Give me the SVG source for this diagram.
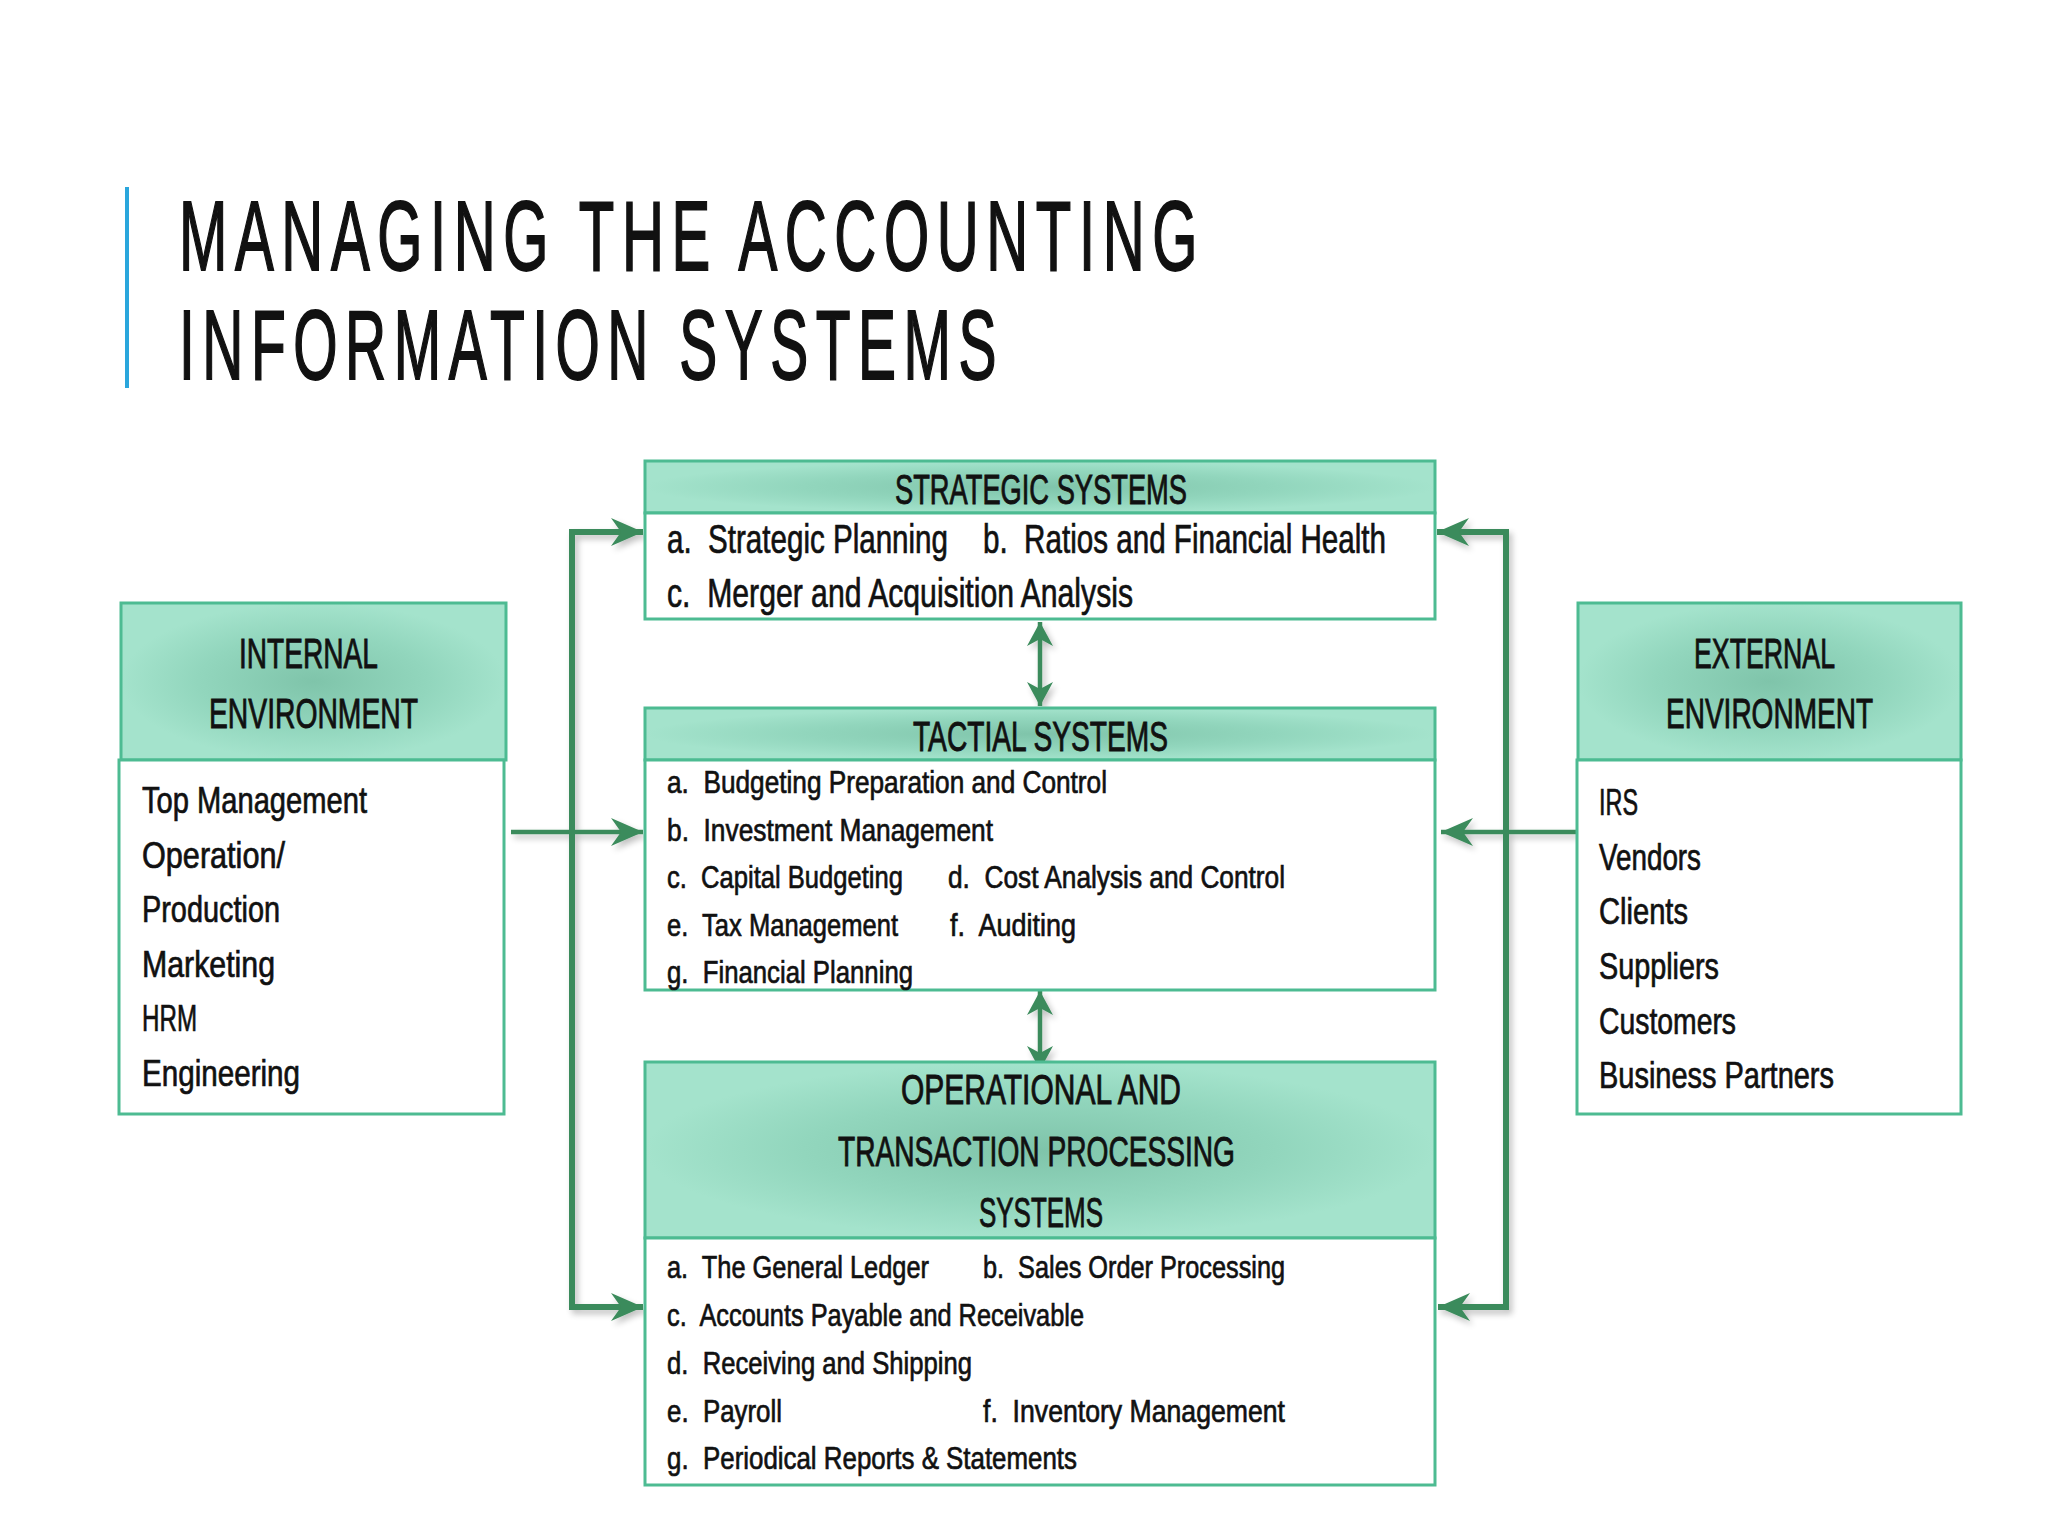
<svg xmlns="http://www.w3.org/2000/svg" width="2048" height="1536" viewBox="0 0 2048 1536">
<defs>
<radialGradient id="hdr" cx="0.5" cy="0.5" r="0.5">
<stop offset="0" stop-color="#7fc4aa"/>
<stop offset="0.6" stop-color="#92d6bd"/>
<stop offset="1" stop-color="#a4e3cc"/>
</radialGradient>
<filter id="sh" x="-10%" y="-10%" width="130%" height="130%">
<feGaussianBlur in="SourceAlpha" stdDeviation="3"/>
<feOffset dx="3" dy="4" result="b"/>
<feComponentTransfer><feFuncA type="linear" slope="0.25"/></feComponentTransfer>
<feMerge><feMergeNode/><feMergeNode in="SourceGraphic"/></feMerge>
</filter>
<marker id="ah" markerUnits="userSpaceOnUse" viewBox="-32 -16 34 32" refX="0" refY="0" markerWidth="34" markerHeight="32" orient="auto-start-reverse">
<path d="M0,0 L-32,-14 L-22,0 L-32,14 Z" fill="#3b8b5b"/>
</marker>
<marker id="ahs" markerUnits="userSpaceOnUse" viewBox="-26 -14 28 28" refX="0" refY="0" markerWidth="28" markerHeight="28" orient="auto-start-reverse">
<path d="M0,0 L-24,-13 L-17,0 L-24,13 Z" fill="#3b8b5b"/>
</marker>
</defs>
<style>
.t{font-family:"Liberation Sans",Arial,sans-serif;fill:#111;stroke:#111;stroke-width:0.7px;}
.ttl{font-size:99px;letter-spacing:13px;stroke-width:1.8px;}
.h{font-size:42px;stroke-width:0.9px;}
.b{font-size:40px;}
.s{font-size:32px;}
.e{font-size:36px;}
.hd{fill:url(#hdr);stroke:#4dbb92;stroke-width:3;}
.bd{fill:#ffffff;stroke:#4dbb92;stroke-width:3;}
.c{fill:none;stroke:#3b8b5b;stroke-width:6;stroke-linejoin:miter;}
.cm{fill:none;stroke:#3b8b5b;stroke-width:4.5;}
</style>
<rect width="2048" height="1536" fill="#ffffff"/>

<g id="title">
<rect x="125" y="187" width="4" height="201" fill="#2aa6dc"/>
<text class="t ttl" x="179" y="270" textLength="1026" lengthAdjust="spacingAndGlyphs">MANAGING THE ACCOUNTING</text>
<text class="t ttl" x="179" y="379" textLength="825" lengthAdjust="spacingAndGlyphs">INFORMATION SYSTEMS</text>
</g>

<g id="connectors" filter="url(#sh)">
<path class="c" d="M643,532 H572 V1307 H643" marker-start="url(#ah)" marker-end="url(#ah)"/>
<path class="cm" d="M511,832 H643" marker-end="url(#ah)"/>
<path class="c" d="M1437,532 H1506 V1307 H1438" marker-start="url(#ah)" marker-end="url(#ah)"/>
<path class="cm" d="M1576,832 H1441" marker-end="url(#ah)"/>
<path class="cm" d="M1040,622 V706" marker-start="url(#ahs)" marker-end="url(#ahs)"/>
<path class="cm" d="M1040,991 V1070" marker-start="url(#ahs)" marker-end="url(#ahs)"/>
</g>

<g id="strategic">
<rect class="hd" x="645" y="461" width="790" height="52"/>
<rect class="bd" x="645" y="513" width="790" height="106"/>
<text class="t h" x="895" y="504" textLength="292" lengthAdjust="spacingAndGlyphs">STRATEGIC SYSTEMS</text>
<text class="t b" xml:space="preserve" x="667" y="553" textLength="281" lengthAdjust="spacingAndGlyphs">a.  Strategic Planning</text>
<text class="t b" xml:space="preserve" x="983" y="553" textLength="403" lengthAdjust="spacingAndGlyphs">b.  Ratios and Financial Health</text>
<text class="t b" xml:space="preserve" x="667" y="607" textLength="466" lengthAdjust="spacingAndGlyphs">c.  Merger and Acquisition Analysis</text>
</g>

<g id="tactical">
<rect class="hd" x="645" y="708" width="790" height="52"/>
<rect class="bd" x="645" y="760" width="790" height="230"/>
<text class="t h" x="913" y="751" textLength="255" lengthAdjust="spacingAndGlyphs">TACTIAL SYSTEMS</text>
<text class="t s" xml:space="preserve" x="667" y="793" textLength="440" lengthAdjust="spacingAndGlyphs">a.  Budgeting Preparation and Control</text>
<text class="t s" xml:space="preserve" x="667" y="841" textLength="326" lengthAdjust="spacingAndGlyphs">b.  Investment Management</text>
<text class="t s" xml:space="preserve" x="667" y="888" textLength="236" lengthAdjust="spacingAndGlyphs">c.  Capital Budgeting</text>
<text class="t s" xml:space="preserve" x="948" y="888" textLength="337" lengthAdjust="spacingAndGlyphs">d.  Cost Analysis and Control</text>
<text class="t s" xml:space="preserve" x="667" y="936" textLength="231" lengthAdjust="spacingAndGlyphs">e.  Tax Management</text>
<text class="t s" xml:space="preserve" x="950" y="936" textLength="126" lengthAdjust="spacingAndGlyphs">f.  Auditing</text>
<text class="t s" xml:space="preserve" x="667" y="983" textLength="246" lengthAdjust="spacingAndGlyphs">g.  Financial Planning</text>
</g>

<g id="operational">
<rect class="hd" x="645" y="1062" width="790" height="176"/>
<rect class="bd" x="645" y="1238" width="790" height="247"/>
<text class="t h" x="901" y="1104" textLength="280" lengthAdjust="spacingAndGlyphs">OPERATIONAL AND</text>
<text class="t h" x="838" y="1166" textLength="397" lengthAdjust="spacingAndGlyphs">TRANSACTION PROCESSING</text>
<text class="t h" x="979" y="1227" textLength="124" lengthAdjust="spacingAndGlyphs">SYSTEMS</text>
<text class="t s" xml:space="preserve" x="667" y="1278" textLength="262" lengthAdjust="spacingAndGlyphs">a.  The General Ledger</text>
<text class="t s" xml:space="preserve" x="983" y="1278" textLength="302" lengthAdjust="spacingAndGlyphs">b.  Sales Order Processing</text>
<text class="t s" xml:space="preserve" x="667" y="1326" textLength="417" lengthAdjust="spacingAndGlyphs">c.  Accounts Payable and Receivable</text>
<text class="t s" xml:space="preserve" x="667" y="1374" textLength="305" lengthAdjust="spacingAndGlyphs">d.  Receiving and Shipping</text>
<text class="t s" xml:space="preserve" x="667" y="1422" textLength="115" lengthAdjust="spacingAndGlyphs">e.  Payroll</text>
<text class="t s" xml:space="preserve" x="983" y="1422" textLength="302" lengthAdjust="spacingAndGlyphs">f.  Inventory Management</text>
<text class="t s" xml:space="preserve" x="667" y="1469" textLength="410" lengthAdjust="spacingAndGlyphs">g.  Periodical Reports &amp; Statements</text>
</g>

<g id="internal">
<rect class="hd" x="121" y="603" width="385" height="157"/>
<rect class="bd" x="119" y="760" width="385" height="354"/>
<text class="t h" x="239" y="668" textLength="139" lengthAdjust="spacingAndGlyphs">INTERNAL</text>
<text class="t h" x="209" y="728" textLength="209" lengthAdjust="spacingAndGlyphs">ENVIRONMENT</text>
<text class="t e" x="142" y="813" textLength="225" lengthAdjust="spacingAndGlyphs">Top Management</text>
<text class="t e" x="142" y="868" textLength="143" lengthAdjust="spacingAndGlyphs">Operation/</text>
<text class="t e" x="142" y="922" textLength="138" lengthAdjust="spacingAndGlyphs">Production</text>
<text class="t e" x="142" y="977" textLength="133" lengthAdjust="spacingAndGlyphs">Marketing</text>
<text class="t e" x="142" y="1031" textLength="55" lengthAdjust="spacingAndGlyphs">HRM</text>
<text class="t e" x="142" y="1086" textLength="158" lengthAdjust="spacingAndGlyphs">Engineering</text>
</g>

<g id="external">
<rect class="hd" x="1578" y="603" width="383" height="157"/>
<rect class="bd" x="1577" y="760" width="384" height="354"/>
<text class="t h" x="1694" y="668" textLength="141" lengthAdjust="spacingAndGlyphs">EXTERNAL</text>
<text class="t h" x="1666" y="728" textLength="207" lengthAdjust="spacingAndGlyphs">ENVIRONMENT</text>
<text class="t e" x="1599" y="815" textLength="39" lengthAdjust="spacingAndGlyphs">IRS</text>
<text class="t e" x="1599" y="870" textLength="102" lengthAdjust="spacingAndGlyphs">Vendors</text>
<text class="t e" x="1599" y="924" textLength="89" lengthAdjust="spacingAndGlyphs">Clients</text>
<text class="t e" x="1599" y="979" textLength="120" lengthAdjust="spacingAndGlyphs">Suppliers</text>
<text class="t e" x="1599" y="1034" textLength="137" lengthAdjust="spacingAndGlyphs">Customers</text>
<text class="t e" x="1599" y="1088" textLength="235" lengthAdjust="spacingAndGlyphs">Business Partners</text>
</g>
</svg>
